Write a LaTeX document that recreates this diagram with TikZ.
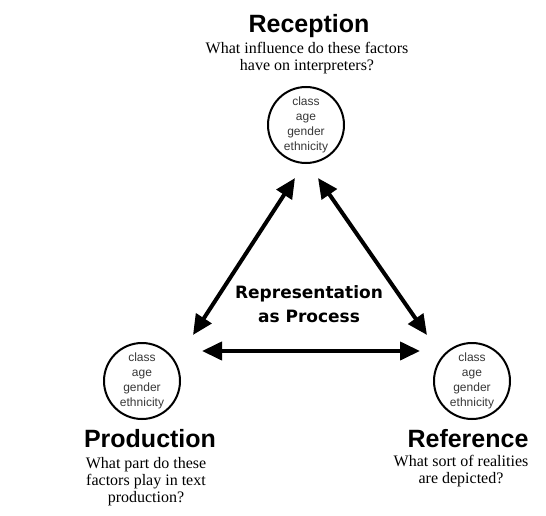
\documentclass[tikz,border=0pt]{standalone}
\usepackage{fontspec}
\setmainfont{Liberation Serif}
\setsansfont{Liberation Sans}
\newfontfamily\processfont{DejaVu Sans}
\usetikzlibrary{arrows.meta}
\definecolor{factorgray}{RGB}{55,55,55}
\begin{document}
\begin{tikzpicture}[x=1pt,y=-1pt,
  factor node/.style={circle,draw,line width=2pt,minimum size=76pt,inner sep=0pt,align=center,
    text=factorgray,font=\sffamily\fontsize{12}{15}\selectfont},
  title node/.style={anchor=base,font=\sffamily\bfseries\fontsize{25}{30}\selectfont},
  question node/.style={anchor=base,align=center,font=\fontsize{16}{17}\selectfont},
  link/.style={line width=4pt,{Triangle[length=20pt,width=18pt]}-{Triangle[length=20pt,width=18pt]}}]
  \useasboundingbox (0,0) rectangle (546,516);

  % the three factor circles
  \node[factor node] (reception) at (306,125) {class\\age\\gender\\ethnicity};
  \node[factor node] (production) at (142,381) {class\\age\\gender\\ethnicity};
  \node[factor node] (reference) at (472,381) {class\\age\\gender\\ethnicity};

  % titles and questions (base = last line)
  \node[title node] (receptiontitle) at (309,33) {Reception};
  \node[question node] (receptionq) at (307,71) {What influence do these factors\\have on interpreters?};
  \node[title node] (productiontitle) at (150,447) {Production};
  \node[question node] (productionq) at (146,502) {What part do these\\factors play in text\\production?};
  \node[title node] (referencetitle) at (468,447) {Reference};
  \node[question node] (referenceq) at (461,483) {What sort of realities\\are depicted?};

  \node[anchor=base,align=center,font=\processfont\bfseries\fontsize{17}{24}\selectfont] (process) at (309,322) {Representation\\as Process};

  % arrow ends
  \coordinate (rec left) at (295,178);
  \coordinate (rec right) at (318,178);
  \coordinate (prod up) at (193,335);
  \coordinate (prod side) at (202,351);
  \coordinate (ref up) at (427,335);
  \coordinate (ref side) at (420,351);

  \draw[link] (prod up) -- (rec left);
  \draw[link] (rec right) -- (ref up);
  \draw[link] (prod side) -- (ref side);
\end{tikzpicture}
\end{document}
